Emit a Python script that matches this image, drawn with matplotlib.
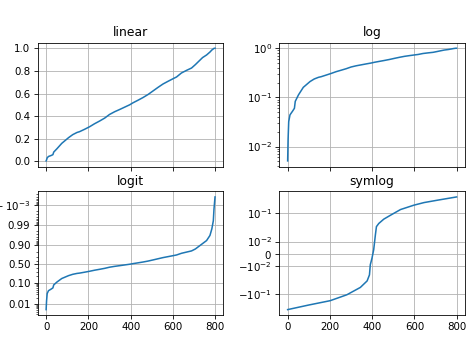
import numpy as np
import matplotlib
matplotlib.use('Agg')
import matplotlib.pyplot as plt
from matplotlib.ticker import FixedLocator, FixedFormatter, NullFormatter, NullLocator

# sorted sample values read from the linear / log / logit panels
x_pts = [0, 2, 5, 11, 24, 32, 36, 51, 74, 106, 126, 146, 158, 182, 206, 229, 253,
         277, 300, 324, 348, 372, 395, 411, 435, 458, 482, 506, 530, 553, 577,
         601, 617, 640, 664, 688, 706, 740, 759, 775, 784, 791, 794, 799]
y_pts = [0.0051, 0.0137, 0.032, 0.044, 0.053, 0.060, 0.083, 0.112, 0.16, 0.21,
         0.237, 0.256, 0.263, 0.284, 0.307, 0.333, 0.357, 0.383, 0.415, 0.439,
         0.459, 0.480, 0.500, 0.518, 0.541, 0.564, 0.591, 0.623, 0.655, 0.684,
         0.708, 0.731, 0.746, 0.781, 0.804, 0.825, 0.855, 0.917, 0.94, 0.966,
         0.984, 0.9937, 0.9983, 0.9996]

# values (centred series)
sym_x = [0, 100, 201, 280, 344, 376, 387, 391, 399, 407, 415, 420, 431, 455,
         487, 534, 597, 645, 708, 799]
sym_y = [-0.357, -0.245, -0.172, -0.106, -0.058, -0.034, -0.0208, -0.009,
         -0.0036, 0.0033, 0.0172, 0.034, 0.044, 0.063, 0.087, 0.138, 0.197,
         0.244, 0.296, 0.387]

x_ticks = [0, 200, 400, 600, 800]
logit_ticks = [0.01, 0.10, 0.50, 0.90, 0.99, 0.999]
logit_labels = ['0.01', '0.10', '0.50', '0.90', '0.99', r'$1 - 10^{-3}$']
titles = ['linear', 'log', 'logit', 'symlog']

fig, axs = plt.subplots(2, 2, figsize=(474 / 74, 355 / 74), dpi=74)
fig.subplots_adjust(left=0.0795, right=0.981, top=0.880, bottom=0.112,
                    wspace=0.3, hspace=0.2)

ax = axs[0, 0]
ax.plot(x_pts, y_pts)
ax.set_yscale('linear')

ax = axs[0, 1]
ax.plot(x_pts, y_pts)
ax.set_yscale('log')

ax = axs[1, 0]
ax.plot(x_pts, y_pts)
ax.set_yscale('logit')
ax.yaxis.set_major_locator(FixedLocator(logit_ticks))
ax.yaxis.set_major_formatter(FixedFormatter(logit_labels))
ax.yaxis.set_minor_formatter(NullFormatter())

ax = axs[1, 1]
ax.plot(sym_x, sym_y)
ax.set_yscale('symlog', linthresh=0.01, linscale=0.39)
ax.yaxis.set_minor_locator(NullLocator())

for ax, t in zip(axs.flat, titles):
    ax.set_title(t)
    ax.grid(True)
    ax.set_xticks(x_ticks)
for ax in axs[0]:
    ax.tick_params(labelbottom=False)

fig.savefig('out.png', dpi=74)
